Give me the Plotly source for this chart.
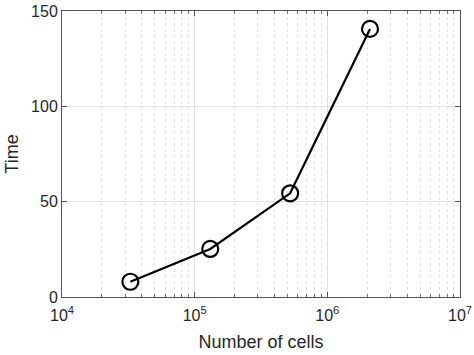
import plotly.graph_objects as go

cells = [32768, 131072, 524288, 2097152]
time_vals = [8.0, 25.2, 54.4, 140.6]
x_tick_vals = [1e4, 1e5, 1e6, 1e7]
x_tick_text = ["10<sup>4</sup>", "10<sup>5</sup>", "10<sup>6</sup>", "10<sup>7</sup>"]
y_tick_vals = [0, 50, 100, 150]

fig = go.Figure()
fig.add_trace(go.Scatter(
    x=cells, y=time_vals, mode="lines+markers",
    line=dict(color="black", width=2.2),
    marker=dict(symbol="circle-open", size=16, color="black", line=dict(width=2.2)),
    showlegend=False, cliponaxis=False,
))

font = "Liberation Sans, Arial, sans-serif"
fig.update_layout(
    width=474, height=355,
    margin=dict(l=62, r=14, t=11, b=58),
    paper_bgcolor="white", plot_bgcolor="white",
    font=dict(family=font, size=16, color="#262626"),
)
fig.update_xaxes(
    type="log", range=[4, 7],
    tickvals=x_tick_vals, ticktext=x_tick_text,
    ticks="inside", ticklen=5, tickcolor="#555", tickwidth=1,
    showline=True, linecolor="#555", linewidth=1, mirror="ticks",
    showgrid=True, gridcolor="#e2e2e2", gridwidth=1,
    minor=dict(ticks="inside", ticklen=3, tickcolor="#777", showgrid=True,
               gridcolor="#e4e4e4", griddash="dot", dtick="D1"),
    zeroline=False, automargin=False, ticklabelstandoff=4,
    tickfont=dict(size=16, color="#262626"),
    title=dict(text="Number of cells", font=dict(size=18, color="#262626"), standoff=12),
)
fig.update_yaxes(
    range=[0, 150], tickvals=y_tick_vals,
    ticks="inside", ticklen=5, tickcolor="#555", tickwidth=1,
    showline=True, linecolor="#555", linewidth=1, mirror="ticks",
    showgrid=True, gridcolor="#e2e2e2", gridwidth=1,
    zeroline=False, automargin=False,
    tickfont=dict(size=16, color="#262626"),
    title=dict(text="Time", font=dict(size=18, color="#262626"), standoff=7),
)
fig.write_html("out.html", config={"displayModeBar": False},
               post_script="document.body.style.margin='0';")
